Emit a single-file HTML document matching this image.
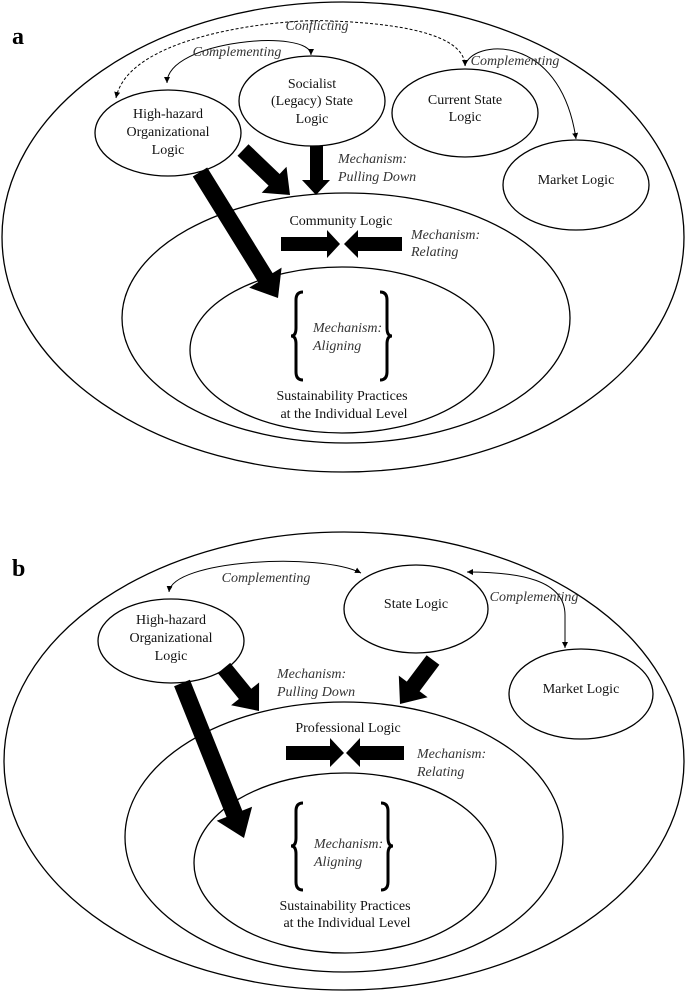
<!DOCTYPE html>
<html><head><meta charset="utf-8"><style>
html,body{margin:0;padding:0;background:#fff}
svg{display:block}
text{font-family:"Liberation Serif",serif;font-size:14px;fill:#111}
.i{font-style:italic;fill:#333}
</style></head><body>
<svg width="685" height="991" viewBox="0 0 685 991">
<defs>
<marker id="ah" markerWidth="8" markerHeight="8" refX="6" refY="3" orient="auto-start-reverse" markerUnits="userSpaceOnUse">
<path d="M0,0 L6,3 L0,6 z" fill="#000"/></marker>
</defs>
<g fill="none" stroke="#000" stroke-width="1.3">
<!-- Panel a -->
<ellipse cx="343" cy="237" rx="341" ry="235"/>
<ellipse cx="168" cy="133" rx="73" ry="43"/>
<ellipse cx="312" cy="101" rx="73" ry="45"/>
<ellipse cx="465" cy="113" rx="73" ry="44"/>
<ellipse cx="576" cy="185" rx="73" ry="45"/>
<ellipse cx="346" cy="318" rx="224" ry="125"/>
<ellipse cx="342" cy="350" rx="152" ry="83"/>
<path d="M167,83 C167,40 311,28 311,55" stroke-width="1" marker-start="url(#ah)" marker-end="url(#ah)"/>
<path d="M116,98 C130,30 300,18 330,21 C420,24 465,40 465,66" stroke-width="1" stroke-dasharray="3,2" marker-start="url(#ah)" marker-end="url(#ah)"/>
<path d="M465,66 C470,40 560,30 576,139" stroke-width="1" marker-end="url(#ah)"/>
<!-- Panel b -->
<ellipse cx="344" cy="761" rx="340" ry="229"/>
<ellipse cx="171" cy="641" rx="73" ry="42"/>
<ellipse cx="416" cy="609" rx="72" ry="44"/>
<ellipse cx="581" cy="694" rx="72" ry="45"/>
<ellipse cx="344" cy="837" rx="219" ry="135"/>
<ellipse cx="345" cy="863" rx="151" ry="90"/>
<path d="M169,592 C172,560 320,552 361,573" stroke-width="1" marker-start="url(#ah)" marker-end="url(#ah)"/>
<path d="M467,572 C520,572 565,580 565,615 L565,648" stroke-width="1" marker-start="url(#ah)" marker-end="url(#ah)"/>
<!-- braces -->
<g stroke-width="3">
<path d="M303,292 Q296,292 296,300 L296,328 Q296,336 291,336 Q296,336 296,344 L296,372 Q296,380 303,380"/>
<path d="M380,292 Q387,292 387,300 L387,328 Q387,336 392,336 Q387,336 387,344 L387,372 Q387,380 380,380"/>
<path d="M303,803 Q296,803 296,811 L296,838 Q296,846 291,846 Q296,846 296,854 L296,882 Q296,890 303,890"/>
<path d="M381,803 Q388,803 388,811 L388,838 Q388,846 393,846 Q388,846 388,854 L388,882 Q388,890 381,890"/>
</g>
</g>
<g fill="#000" stroke="none">
<!-- a arrows -->
<polygon points="237.5,155.8 268.6,185.6 261.7,192.8 290,195 286.5,166.8 279.6,174 248.5,144.2"/>
<polygon points="310,146 323,146 323,180 330,180 316,195 302,180 310,180"/>
<polygon points="192.8,176.5 258.2,282.1 249.2,287.6 278,298 281.6,267.6 272.6,273.1 207.2,167.5"/>
<polygon points="281,237 327,237 327,230 340,244 327,258 327,251 281,251"/>
<polygon points="402,237 358,237 358,230 344,244 358,258 358,251 402,251"/>
<!-- b arrows -->
<polygon points="217.8,673.1 238.9,699 231.1,705.3 259,711 259.1,682.5 251.3,688.8 230.2,662.9"/>
<polygon points="426.6,655.2 406.8,681.6 398.8,675.6 400,704 427.6,697.2 419.6,691.2 439.4,664.8"/>
<polygon points="174.1,686.2 226.5,817 216.7,820.8 244,838 252.1,806.8 242.3,810.6 189.9,679.8"/>
<polygon points="286,746 330,746 330,738 344,753 330,767 330,760 286,760"/>
<polygon points="404,746 360,746 360,738 346,753 360,767 360,760 404,760"/>
</g>
<!-- labels -->
<text x="12" y="44" style="font-size:24px;font-weight:bold;fill:#000">a</text>
<text x="12" y="576" style="font-size:24px;font-weight:bold;fill:#000">b</text>
<g text-anchor="middle">
<text x="168" y="118">High-hazard</text>
<text x="168" y="136">Organizational</text>
<text x="168" y="154">Logic</text>
<text x="312" y="88">Socialist</text>
<text x="312" y="105">(Legacy) State</text>
<text x="312" y="123">Logic</text>
<text x="465" y="104">Current State</text>
<text x="465" y="121">Logic</text>
<text x="576" y="184">Market Logic</text>
<text x="341" y="225">Community Logic</text>
<text x="342" y="400">Sustainability Practices</text>
<text x="344" y="418">at the Individual Level</text>
<text class="i" x="317" y="30">Conflicting</text>
<text class="i" x="237" y="56">Complementing</text>
<text class="i" x="515" y="65">Complementing</text>

<text x="171" y="624">High-hazard</text>
<text x="171" y="642">Organizational</text>
<text x="171" y="660">Logic</text>
<text x="416" y="608">State Logic</text>
<text x="581" y="693">Market Logic</text>
<text x="348" y="732">Professional Logic</text>
<text x="345" y="910">Sustainability Practices</text>
<text x="347" y="927">at the Individual Level</text>
<text class="i" x="266" y="582">Complementing</text>
<text class="i" x="534" y="601">Complementing</text>
</g>
<text class="i" x="338" y="163">Mechanism:</text>
<text class="i" x="338" y="181">Pulling Down</text>
<text class="i" x="411" y="239">Mechanism:</text>
<text class="i" x="411" y="256">Relating</text>
<text class="i" x="313" y="332">Mechanism:</text>
<text class="i" x="313" y="350">Aligning</text>

<text class="i" x="277" y="678">Mechanism:</text>
<text class="i" x="277" y="696">Pulling Down</text>
<text class="i" x="417" y="758">Mechanism:</text>
<text class="i" x="417" y="776">Relating</text>
<text class="i" x="314" y="848">Mechanism:</text>
<text class="i" x="314" y="866">Aligning</text>
</svg>
</body></html>
